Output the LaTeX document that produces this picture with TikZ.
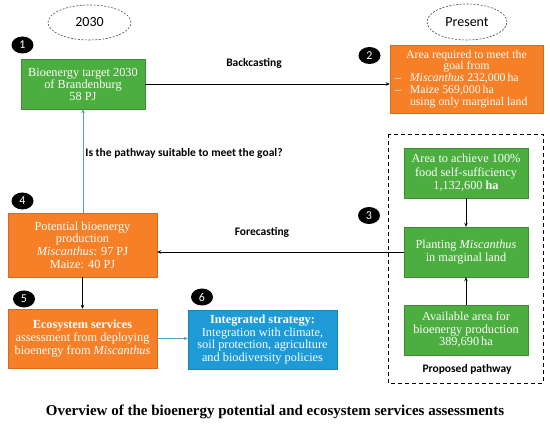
\documentclass[tikz,border=0pt]{standalone}
\usepackage{fontspec}
\setmainfont{Liberation Serif}
\newfontfamily\calfont{Carlito}
\usetikzlibrary{arrows.meta,shapes.geometric}
\definecolor{boxgreen}{RGB}{76,174,62}
\definecolor{boxorange}{RGB}{245,128,40}
\definecolor{boxblue}{RGB}{30,155,215}
\definecolor{arrblue}{RGB}{90,155,200}
\tikzset{
  box/.style={rectangle, inner sep=0pt, text=white, align=center, font=\fontsize{12.3}{12}\selectfont},
  gbox/.style={box, fill=boxgreen, draw=boxgreen!80!black, line width=0.4pt},
  obox/.style={box, fill=boxorange, draw=boxorange!85!black, line width=0.4pt},
  bbox/.style={box, fill=boxblue, draw=boxblue!85!black, line width=0.4pt},
  numdot/.style={ellipse, fill=black, inner sep=0pt, minimum width=22pt, minimum height=17pt, text=white, font=\calfont\fontsize{12}{12}\selectfont},
  timeell/.style={ellipse, draw=black!70, dashed, dash pattern=on 2pt off 1.5pt, line width=0.6pt, inner sep=0pt, font=\calfont\fontsize{14}{14}\selectfont},
  lbl/.style={font=\calfont\bfseries\fontsize{11.5}{11.5}\selectfont, inner sep=0pt},
  karr/.style={-{Stealth[length=4pt,width=3.5pt]}, line width=0.9pt, black},
  barr/.style={-{Stealth[length=4pt,width=3.5pt]}, line width=1pt, arrblue},
}
\begin{document}
\begin{tikzpicture}[x=1pt,y=-1pt]
\useasboundingbox[fill=white] (0,0) rectangle (550,425);

% time ellipses
\node[timeell, minimum width=83pt, minimum height=35pt] (t2030) at (89.5,22.5) {2030};
\node[timeell, minimum width=80pt, minimum height=36pt] (tpres) at (467,22) {Present};

% dashed pathway frame
\draw[dashed, dash pattern=on 4pt off 3pt, line width=0.8pt] (388,134) rectangle (543,383);
\node[lbl] (pp) at (467,369) {Proposed pathway};

% boxes
\node[gbox, minimum width=124pt, minimum height=50pt] (b1) at (83,84)
  {Bioenergy target 2030\\of Brandenburg\\58 PJ};
\node[obox, minimum width=153pt, minimum height=68pt, align=left, font=\fontsize{11.8}{11.9}\selectfont] (b2) at (466.5,79)
  {\makebox[143pt][c]{Area required to meet the}\\
   \makebox[143pt][c]{goal from}\\
   \makebox[143pt][l]{--\hspace{9pt}\textit{Miscanthus} 232,000\,ha}\\
   \makebox[143pt][l]{--\hspace{9pt}Maize 569,000\,ha}\\
   \makebox[143pt][l]{\hspace{15pt}using only marginal land}};
\node[gbox, minimum width=124pt, minimum height=50pt, font=\fontsize{12.3}{13.5}\selectfont] (b3a) at (466,173)
  {Area to achieve 100\%\\food self-sufficiency\\1,132,600 \textbf{ha}};
\node[gbox, minimum width=124pt, minimum height=50pt, font=\fontsize{12.3}{13}\selectfont] (b3b) at (466,252)
  {Planting \textit{Miscanthus}\\in marginal land};
\node[gbox, minimum width=124pt, minimum height=50pt, font=\fontsize{12.3}{12.5}\selectfont] (b3c) at (466,330)
  {Available area for\\bioenergy production\\389,690\,ha};
\node[obox, minimum width=149pt, minimum height=64pt, font=\fontsize{12.3}{12.7}\selectfont] (b4) at (82.5,245)
  {Potential bioenergy\\production\\\textit{Miscanthus}: 97 PJ\\Maize: 40 PJ};
\node[obox, minimum width=149pt, minimum height=59pt, font=\fontsize{12.3}{13}\selectfont] (b5) at (82.5,338.5)
  {\textbf{Ecosystem services}\\assessment from deploying\\bioenergy from \textit{Miscanthus}};
\node[bbox, minimum width=149pt, minimum height=59pt, font=\fontsize{12.3}{12.4}\selectfont] (b6) at (262.5,339.5)
  {\textbf{Integrated strategy:}\\Integration with climate,\\soil protection, agriculture\\and biodiversity policies};

% number markers
\node[numdot] (n1) at (22.5,45) {1};
\node[numdot] (n2) at (369.5,55.5) {2};
\node[numdot] (n3) at (369,215.5) {3};
\node[numdot] (n4) at (22.5,201) {4};
\node[numdot] (n5) at (24,299) {5};
\node[numdot] (n6) at (202,297) {6};

% labels
\node[lbl] (lback) at (254,63) {Backcasting};
\node[lbl] (lpath) at (184,153) {Is the pathway suitable to meet the goal?};
\node[lbl] (lfore) at (262,232) {Forecasting};

% connectors
\draw[karr] (b1.east) -- (b1.east -| b2.west);
\draw[karr] (b3b.west) -- (b3b.west -| b4.east);
\draw[barr] (b4.north -| b1.south) -- (b1.south);
\draw[karr] (b4.south) -- (b5.north);
\draw[barr, line width=0.6pt] (b5.east) -- (b6.west |- b5.east);
\draw[karr] (b3a.south) -- (b3b.north);
\draw[karr] (b3c.north) -- (b3b.south);

% title
\node[font=\bfseries\fontsize{15}{15}\selectfont, inner sep=0pt] (title) at (275,412)
  {Overview of the bioenergy potential and ecosystem services assessments};
\end{tikzpicture}
\end{document}
